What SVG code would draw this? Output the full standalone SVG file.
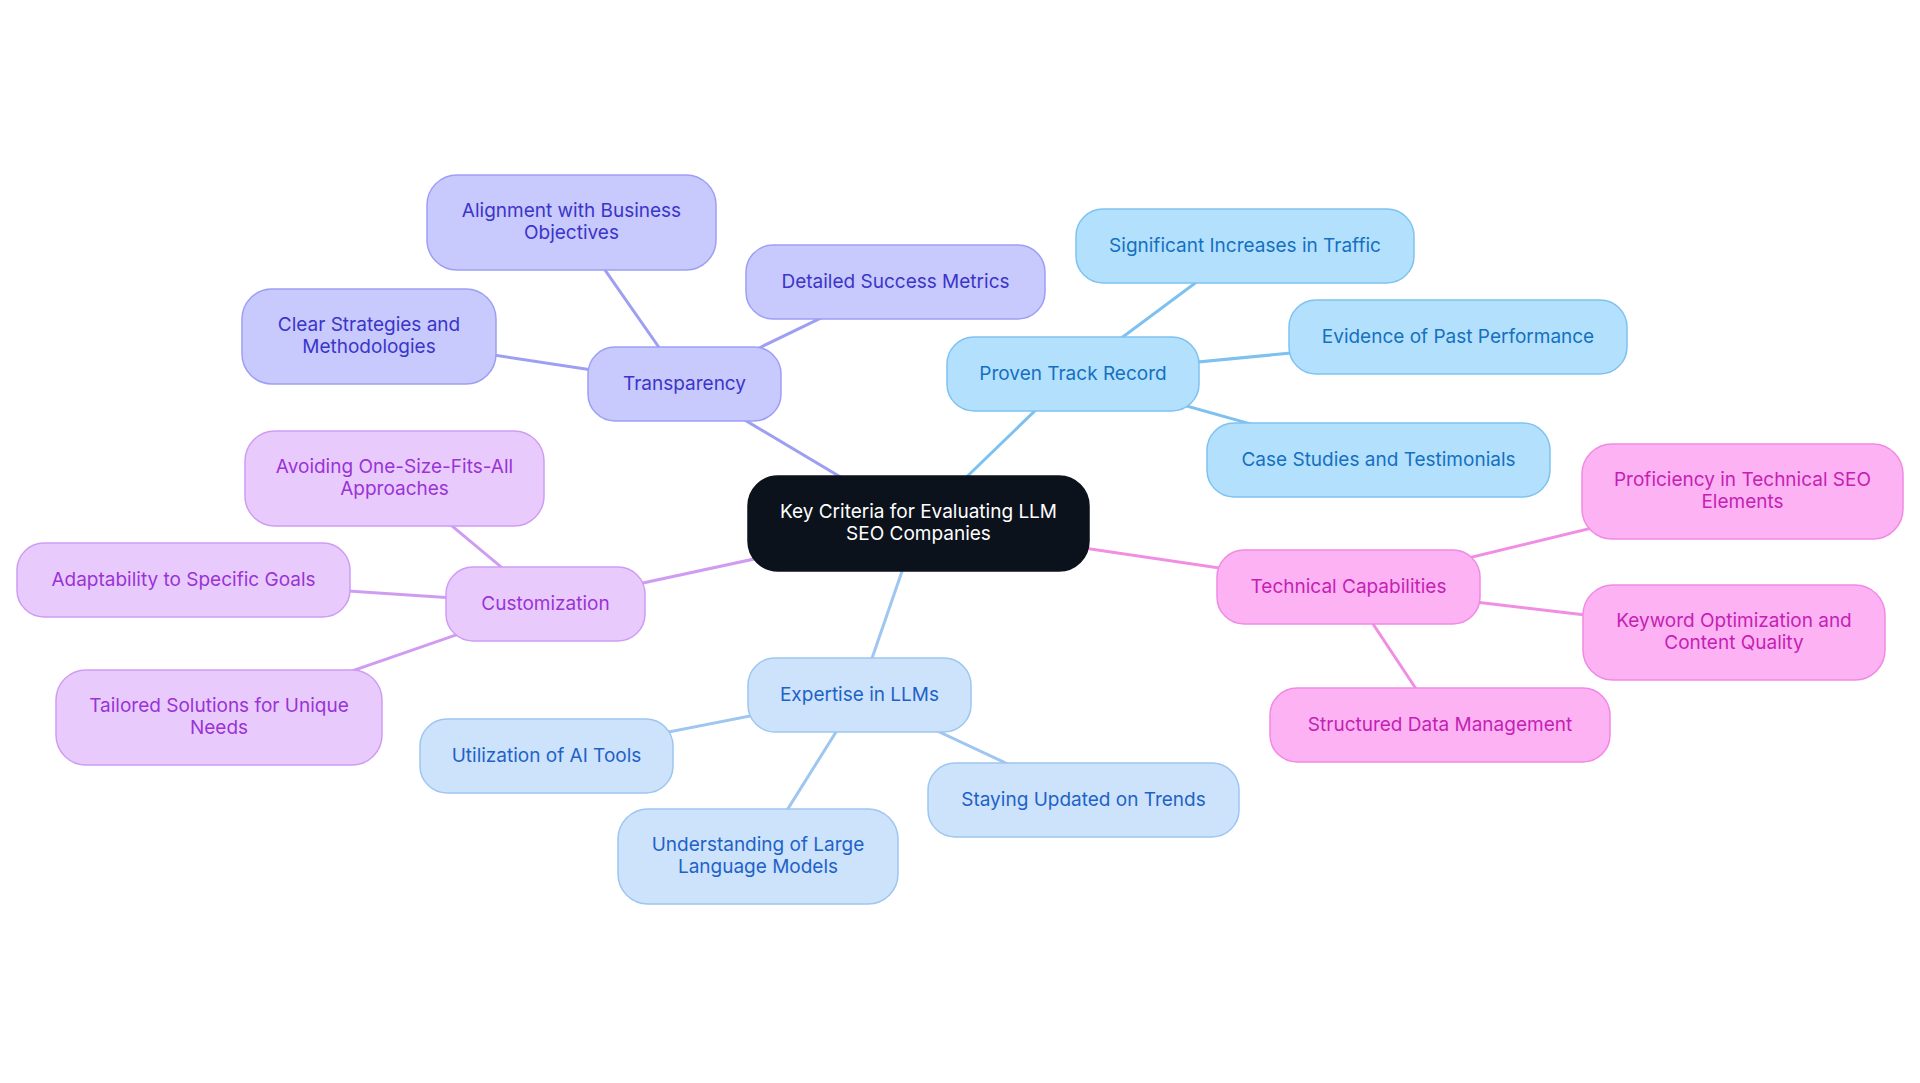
<svg xmlns="http://www.w3.org/2000/svg" width="1920" height="1083" viewBox="0 0 1920 1083">
<style>
text{font-family:Inter,"Noto Sans",sans-serif;font-size:19px;text-anchor:middle}
.edges line{stroke-width:3;fill:none}
.bt line{stroke:#9d9ff3}.bp line{stroke:#7dc1f0}.bk line{stroke:#f08ee3}.be line{stroke:#9fc6f0}.bc line{stroke:#d09cf2}
rect{stroke-width:1.5}
.root rect{fill:#0c121c;stroke:#0c121c}.root text{fill:#ffffff}
.t rect{fill:#c8c9fc;stroke:#9d9ff5}.t text{fill:#3b35c9}
.p rect{fill:#b3e0fd;stroke:#7fc2f0}.p text{fill:#1570c0}
.k rect{fill:#fcb2f3;stroke:#f08ae4}.k text{fill:#c51fb4}
.e rect{fill:#cde3fb;stroke:#9dc6f1}.e text{fill:#1f62c7}
.c rect{fill:#e8cbfc;stroke:#d09cf3}.c text{fill:#9a33d6}
</style>
<rect width="1920" height="1083" fill="#ffffff"/>
<g id="connectors" class="edges">
  <g class="bt">
    <line x1="918.5" y1="523.5" x2="684.5" y2="384"/>
    <line x1="684.5" y1="384" x2="895.5" y2="282"/>
    <line x1="684.5" y1="384" x2="571.5" y2="222"/>
    <line x1="684.5" y1="384" x2="369" y2="336"/>
  </g>
  <g class="bp">
    <line x1="918.5" y1="523.5" x2="1073" y2="374"/>
    <line x1="1073" y1="374" x2="1245" y2="246"/>
    <line x1="1073" y1="374" x2="1458" y2="337"/>
    <line x1="1073" y1="374" x2="1378.5" y2="460"/>
  </g>
  <g class="bk">
    <line x1="918.5" y1="523.5" x2="1348.5" y2="587"/>
    <line x1="1348.5" y1="587" x2="1742.5" y2="491.5"/>
    <line x1="1348.5" y1="587" x2="1734" y2="632.5"/>
    <line x1="1348.5" y1="587" x2="1440" y2="725"/>
  </g>
  <g class="be">
    <line x1="918.5" y1="523.5" x2="859.5" y2="694.5"/>
    <line x1="859.5" y1="694.5" x2="546.5" y2="756"/>
    <line x1="859.5" y1="694.5" x2="758" y2="856.5"/>
    <line x1="859.5" y1="694.5" x2="1083.5" y2="799.5"/>
  </g>
  <g class="bc">
    <line x1="918.5" y1="523.5" x2="545.5" y2="604"/>
    <line x1="545.5" y1="604" x2="394.5" y2="478"/>
    <line x1="545.5" y1="604" x2="183.5" y2="580"/>
    <line x1="545.5" y1="604" x2="219" y2="717"/>
  </g>
</g>
<g id="root" class="root">
  <rect x="748" y="476" width="341" height="95" rx="30"/>
  <text x="918.5" y="518">Key Criteria for Evaluating LLM</text>
  <text x="918.5" y="540">SEO Companies</text>
</g>
<g id="transparency" class="t">
  <rect x="588" y="347" width="193" height="74" rx="27"/>
  <text x="684.5" y="389.5">Transparency</text>
</g>
<g id="detailed-success-metrics" class="t">
  <rect x="746" y="245" width="299" height="74" rx="27"/>
  <text x="895.5" y="287.5">Detailed Success Metrics</text>
</g>
<g id="alignment" class="t">
  <rect x="427" y="175" width="289" height="95" rx="30"/>
  <text x="571.5" y="216.5">Alignment with Business</text>
  <text x="571.5" y="238.5">Objectives</text>
</g>
<g id="clear-strategies" class="t">
  <rect x="242" y="289" width="254" height="95" rx="30"/>
  <text x="369" y="330.5">Clear Strategies and</text>
  <text x="369" y="352.5">Methodologies</text>
</g>
<g id="proven-track-record" class="p">
  <rect x="947" y="337" width="252" height="74" rx="27"/>
  <text x="1073" y="379.5">Proven Track Record</text>
</g>
<g id="significant-increases" class="p">
  <rect x="1076" y="209" width="338" height="74" rx="27"/>
  <text x="1245" y="251.5">Significant Increases in Traffic</text>
</g>
<g id="evidence" class="p">
  <rect x="1289" y="300" width="338" height="74" rx="27"/>
  <text x="1458" y="342.5">Evidence of Past Performance</text>
</g>
<g id="case-studies" class="p">
  <rect x="1207" y="423" width="343" height="74" rx="27"/>
  <text x="1378.5" y="465.5">Case Studies and Testimonials</text>
</g>
<g id="technical-capabilities" class="k">
  <rect x="1217" y="550" width="263" height="74" rx="27"/>
  <text x="1348.5" y="592.5">Technical Capabilities</text>
</g>
<g id="proficiency" class="k">
  <rect x="1582" y="444" width="321" height="95" rx="30"/>
  <text x="1742.5" y="486">Proficiency in Technical SEO</text>
  <text x="1742.5" y="508">Elements</text>
</g>
<g id="keyword" class="k">
  <rect x="1583" y="585" width="302" height="95" rx="30"/>
  <text x="1734" y="627">Keyword Optimization and</text>
  <text x="1734" y="649">Content Quality</text>
</g>
<g id="structured-data" class="k">
  <rect x="1270" y="688" width="340" height="74" rx="27"/>
  <text x="1440" y="730.5">Structured Data Management</text>
</g>
<g id="expertise" class="e">
  <rect x="748" y="658" width="223" height="74" rx="27"/>
  <text x="859.5" y="700.5">Expertise in LLMs</text>
</g>
<g id="utilization" class="e">
  <rect x="420" y="719" width="253" height="74" rx="27"/>
  <text x="546.5" y="761.5">Utilization of AI Tools</text>
</g>
<g id="understanding" class="e">
  <rect x="618" y="809" width="280" height="95" rx="30"/>
  <text x="758" y="851">Understanding of Large</text>
  <text x="758" y="873">Language Models</text>
</g>
<g id="staying-updated" class="e">
  <rect x="928" y="763" width="311" height="74" rx="27"/>
  <text x="1083.5" y="805.5">Staying Updated on Trends</text>
</g>
<g id="customization" class="c">
  <rect x="446" y="567" width="199" height="74" rx="27"/>
  <text x="545.5" y="609.5">Customization</text>
</g>
<g id="avoiding" class="c">
  <rect x="245" y="431" width="299" height="95" rx="30"/>
  <text x="394.5" y="472.5">Avoiding One-Size-Fits-All</text>
  <text x="394.5" y="494.5">Approaches</text>
</g>
<g id="adaptability" class="c">
  <rect x="17" y="543" width="333" height="74" rx="27"/>
  <text x="183.5" y="585.5">Adaptability to Specific Goals</text>
</g>
<g id="tailored" class="c">
  <rect x="56" y="670" width="326" height="95" rx="30"/>
  <text x="219" y="711.5">Tailored Solutions for Unique</text>
  <text x="219" y="733.5">Needs</text>
</g>
</svg>
